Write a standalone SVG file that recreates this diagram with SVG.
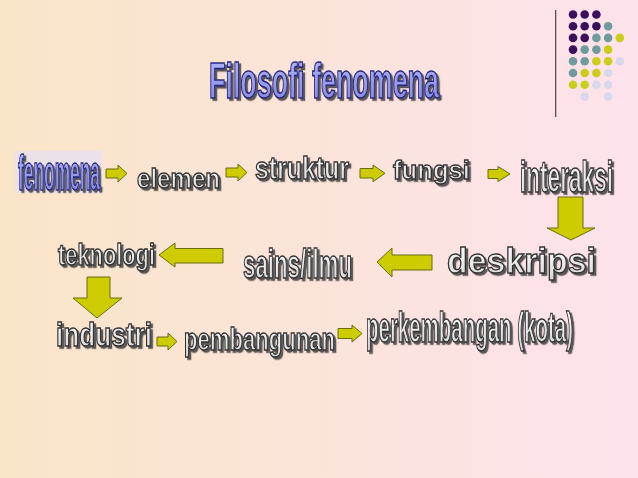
<svg xmlns="http://www.w3.org/2000/svg" width="638" height="478" viewBox="0 0 638 478">
  <defs>
    <linearGradient id="bg" x1="0" y1="0" x2="1" y2="0">
      <stop offset="0" stop-color="#fbe5c8"/>
      <stop offset="1" stop-color="#fde2ec"/>
    </linearGradient>
    <linearGradient id="wfill" x1="0" y1="0" x2="0" y2="1">
      <stop offset="0" stop-color="#ffffff"/>
      <stop offset="1" stop-color="#d8d8d8"/>
    </linearGradient>
    <linearGradient id="bfill" x1="0" y1="0" x2="0" y2="1">
      <stop offset="0" stop-color="#b4b8f8"/>
      <stop offset="1" stop-color="#8082e0"/>
    </linearGradient>
    <filter id="sh" x="-10%" y="-20%" width="130%" height="150%">
      <feDropShadow dx="2.2" dy="2.2" stdDeviation="0.5" flood-color="#404040" flood-opacity="0.85"/>
    </filter>
  </defs>
  <style>
    .n { filter: url(#sh); }
    .t { font-family: "Liberation Sans", Arial, sans-serif; font-weight: bold; fill: url(#wfill); stroke: #333333; stroke-width: 1.3; vector-effect: non-scaling-stroke; }
    .tb { font-family: "Liberation Sans", Arial, sans-serif; font-weight: bold; fill: url(#bfill); stroke: #28287e; stroke-width: 1.3; vector-effect: non-scaling-stroke; }
    .ar { fill: #cccc00; stroke: #6b6b10; stroke-width: 1; stroke-linejoin: miter; }
    .dp { fill: #3b0f5e; }
    .tl { fill: #6e9c9c; }
    .yl { fill: #cccc1a; }
    .lv { fill: #d8d8ea; }
  </style>
  <rect width="638" height="478" fill="url(#bg)"/>

  <g id="decor">
    <line x1="555.7" y1="10" x2="555.7" y2="117" stroke="#5a3a4a" stroke-width="1.2"/>
    <circle class="dp" cx="573" cy="14.5" r="4.3"/><circle class="dp" cx="584.7" cy="14.5" r="4.3"/><circle class="dp" cx="596.4" cy="14.5" r="4.3"/>
    <circle class="dp" cx="573" cy="26.2" r="4.3"/><circle class="dp" cx="584.7" cy="26.2" r="4.3"/><circle class="dp" cx="596.4" cy="26.2" r="4.3"/><circle class="tl" cx="608.1" cy="26.2" r="4.3"/>
    <circle class="dp" cx="573" cy="37.9" r="4.3"/><circle class="dp" cx="584.7" cy="37.9" r="4.3"/><circle class="tl" cx="596.4" cy="37.9" r="4.3"/><circle class="tl" cx="608.1" cy="37.9" r="4.3"/><circle class="yl" cx="619.8" cy="37.9" r="4.3"/>
    <circle class="dp" cx="573" cy="49.6" r="4.3"/><circle class="tl" cx="584.7" cy="49.6" r="4.3"/><circle class="tl" cx="596.4" cy="49.6" r="4.3"/><circle class="yl" cx="608.1" cy="49.6" r="4.3"/>
    <circle class="tl" cx="573" cy="61.3" r="4.3"/><circle class="tl" cx="584.7" cy="61.3" r="4.3"/><circle class="yl" cx="596.4" cy="61.3" r="4.3"/><circle class="yl" cx="608.1" cy="61.3" r="4.3"/><circle class="lv" cx="619.8" cy="61.3" r="4.3"/>
    <circle class="tl" cx="573" cy="73" r="4.3"/><circle class="yl" cx="584.7" cy="73" r="4.3"/><circle class="yl" cx="596.4" cy="73" r="4.3"/><circle class="lv" cx="608.1" cy="73" r="4.3"/>
    <circle class="yl" cx="573" cy="84.7" r="4.3"/><circle class="yl" cx="584.7" cy="84.7" r="4.3"/><circle class="lv" cx="596.4" cy="84.7" r="4.3"/><circle class="lv" cx="608.1" cy="84.7" r="4.3"/>
    <circle class="lv" cx="584.7" cy="96.6" r="4.3"/><circle class="lv" cx="608.1" cy="96.6" r="4.3"/>
  </g>

  <g id="title" class="n">
    <text class="tb" transform="translate(209,98) scale(1,1.86)" font-size="26.9" textLength="230" lengthAdjust="spacingAndGlyphs">Filosofi fenomena</text>
  </g>

  <rect x="15" y="151" width="87" height="42" fill="#e4dff6" opacity="0.7"/>
  <g id="n-fenomena" class="n">
    <text class="tb" transform="translate(18,190) scale(1,2.87)" font-size="17.4" textLength="82" lengthAdjust="spacingAndGlyphs">fenomena</text>
  </g>
  <g id="n-elemen" class="n">
    <text class="t" transform="translate(137,188) scale(1,1.12)" font-size="24.1" textLength="83" lengthAdjust="spacingAndGlyphs">elemen</text>
  </g>
  <g id="n-struktur" class="n">
    <text class="t" transform="translate(255,179) scale(1,1.29)" font-size="24.9" textLength="94" lengthAdjust="spacingAndGlyphs">struktur</text>
  </g>
  <g id="n-fungsi" class="n">
    <text class="t" transform="translate(393,179)" font-size="25.7" textLength="77" lengthAdjust="spacingAndGlyphs">fungsi</text>
  </g>
  <g id="n-interaksi" class="n">
    <text class="t" transform="translate(520,192) scale(1,1.95)" font-size="22.6" textLength="93" lengthAdjust="spacingAndGlyphs">interaksi</text>
  </g>
  <g id="n-deskripsi" class="n">
    <text class="t" transform="translate(447,273) scale(1,1.03)" font-size="33.9" textLength="149" lengthAdjust="spacingAndGlyphs">deskripsi</text>
  </g>
  <g id="n-sains" class="n">
    <text class="t" transform="translate(243,278) scale(1,1.84)" font-size="22.3" textLength="109" lengthAdjust="spacingAndGlyphs">sains/ilmu</text>
  </g>
  <g id="n-teknologi" class="n">
    <text class="t" transform="translate(58,265) scale(1,1.38)" font-size="21.8" textLength="97" lengthAdjust="spacingAndGlyphs">teknologi</text>
  </g>
  <g id="n-industri" class="n">
    <text class="t" transform="translate(56,346) scale(1,1.3)" font-size="26.2" textLength="96" lengthAdjust="spacingAndGlyphs">industri</text>
  </g>
  <g id="n-pembangunan" class="n">
    <text class="t" transform="translate(184,350) scale(1,1.45)" font-size="22.1" textLength="151" lengthAdjust="spacingAndGlyphs">pembangunan</text>
  </g>
  <g id="n-perkembangan" class="n">
    <text class="t" transform="translate(366,342) scale(1,2.1)" font-size="20.5" textLength="207" lengthAdjust="spacingAndGlyphs">perkembangan (kota)</text>
  </g>

  <g id="connectors">
    <path class="ar" d="M106,169 H118 V165 L127,173.5 L118,182 V178 H106 Z"/>
    <path class="ar" d="M226,168 H238 V164 L247,172.5 L238,181 V177 H226 Z"/>
    <path class="ar" d="M360,168.5 H373 V165 L385,173.3 L373,181.7 V178 H360 Z"/>
    <path class="ar" d="M488,169.5 H498 V166.5 L510,174 L498,181.5 V178.5 H488 Z"/>
    <path class="ar" d="M558,197 H583 V228 H595 L571,240 L547,228 H558 Z"/>
    <path class="ar" d="M432,255 H392 V248 L377,262 L392,277 V270 H432 Z"/>
    <path class="ar" d="M223,248.5 H175 V243 L159,255 L175,267 V263 H223 Z"/>
    <path class="ar" d="M87,277 H110 V298 H122 L97,318 L73,298 H87 Z"/>
    <path class="ar" d="M157,337 H168 V333 L177,341.5 L168,350 V346 H157 Z"/>
    <path class="ar" d="M338,328.5 H352 V325 L362,333.5 L352,342 V338.5 H338 Z"/>
  </g>
</svg>
